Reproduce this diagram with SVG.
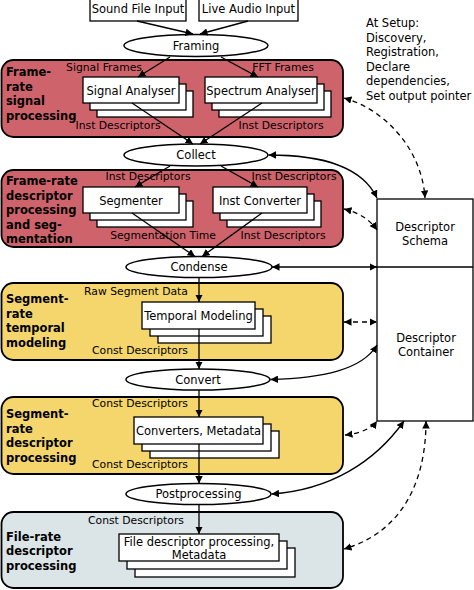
<svg xmlns="http://www.w3.org/2000/svg" width="474" height="590" viewBox="0 0 474 590">
<defs>
<marker id="ah" viewBox="0 0 10 10" refX="10" refY="5" markerWidth="7.5" markerHeight="7.5" markerUnits="userSpaceOnUse" orient="auto-start-reverse">
<path d="M0,0 L10,5 L0,10 z" fill="#000"/>
</marker>
<style>
text{font-family:"DejaVu Sans","Liberation Sans",sans-serif;fill:#000}
.grp{stroke:#000;stroke-width:1.8}
.red{fill:#cf636b}
.yel{fill:#f4d66c}
.gry{fill:#dbe4e6}
.gl{font-weight:bold;font-size:11.5px}
.el{font-size:10.8px;text-anchor:middle}
.bt{font-size:11.5px;text-anchor:middle}
.box{fill:#fff;stroke:#000;stroke-width:1.3}
.ell{fill:#fff;stroke:#000;stroke-width:1.5}
.c{fill:none;stroke:#000;stroke-width:1.3}
.d{stroke-dasharray:5,4}
.a{marker-end:url(#ah)}
.b{marker-start:url(#ah);marker-end:url(#ah)}
</style>
</defs>

<g id="inputs">
<g id="sound-file-input"><rect class="box" x="90" y="-3" width="96" height="24"/><text class="bt" x="138" y="13">Sound File Input</text></g>
<g id="live-audio-input"><rect class="box" x="199" y="-3" width="99" height="24"/><text class="bt" x="248.5" y="13">Live Audio Input</text></g>
</g>

<g id="group-frame-signal">
<rect class="grp red" x="1.5" y="60" width="341.5" height="77" rx="12"/>
<text class="gl" x="6"><tspan x="6" y="76">Frame-</tspan><tspan x="6" y="90.5">rate</tspan><tspan x="6" y="105">signal</tspan><tspan x="6" y="119.5">processing</tspan></text>
<text class="el" x="104" y="71">Signal Frames</text>
<text class="el" x="283" y="71">FFT Frames</text>
<text class="el" x="118" y="129">Inst Descriptors</text>
<text class="el" x="281" y="129">Inst Descriptors</text>
</g>
<g id="signal-analyser">
<rect class="box" x="97" y="91" width="96" height="26"/>
<rect class="box" x="90" y="84" width="96" height="26"/>
<rect class="box" x="83" y="77" width="96" height="26"/>
<text class="bt" x="131" y="94.5">Signal Analyser</text>
</g>
<g id="spectrum-analyser">
<rect class="box" x="219" y="91" width="112" height="26"/>
<rect class="box" x="212" y="84" width="112" height="26"/>
<rect class="box" x="205" y="77" width="112" height="26"/>
<text class="bt" x="261" y="94.5">Spectrum Analyser</text>
</g>

<g id="group-frame-descriptor">
<rect class="grp red" x="1.5" y="170" width="341.5" height="77" rx="12"/>
<text class="gl" x="6"><tspan x="6" y="185">Frame-rate</tspan><tspan x="6" y="199.5">descriptor</tspan><tspan x="6" y="214">processing</tspan><tspan x="6" y="228.5">and seg-</tspan><tspan x="6" y="243">mentation</tspan></text>
<text class="el" x="148" y="180">Inst Descriptors</text>
<text class="el" x="294" y="180">Inst Descriptors</text>
<text class="el" x="163" y="239">Segmentation Time</text>
<text class="el" x="283" y="239">Inst Descriptors</text>
</g>
<g id="segmenter">
<rect class="box" x="97" y="201" width="96" height="26"/>
<rect class="box" x="90" y="194" width="96" height="26"/>
<rect class="box" x="83" y="187" width="96" height="26"/>
<text class="bt" x="131" y="204.5">Segmenter</text>
</g>
<g id="inst-converter">
<rect class="box" x="227" y="201" width="94" height="26"/>
<rect class="box" x="220" y="194" width="94" height="26"/>
<rect class="box" x="213" y="187" width="94" height="26"/>
<text class="bt" x="260" y="204.5">Inst Converter</text>
</g>

<g id="group-segment-temporal">
<rect class="grp yel" x="1.5" y="283" width="341.5" height="77" rx="12"/>
<text class="gl" x="6"><tspan x="6" y="303">Segment-</tspan><tspan x="6" y="317.5">rate</tspan><tspan x="6" y="332">temporal</tspan><tspan x="6" y="346.5">modeling</tspan></text>
<text class="el" x="136" y="295">Raw Segment Data</text>
<text class="el" x="140" y="354">Const Descriptors</text>
</g>
<g id="temporal-modeling">
<rect class="box" x="158" y="316" width="113" height="27"/>
<rect class="box" x="150" y="309" width="113" height="27"/>
<rect class="box" x="142" y="302" width="113" height="27"/>
<text class="bt" x="198.5" y="320">Temporal Modeling</text>
</g>

<g id="group-segment-descriptor">
<rect class="grp yel" x="1.5" y="397" width="341.5" height="77" rx="12"/>
<text class="gl" x="6"><tspan x="6" y="418">Segment-</tspan><tspan x="6" y="432.5">rate</tspan><tspan x="6" y="447">descriptor</tspan><tspan x="6" y="461.5">processing</tspan></text>
<text class="el" x="140" y="407">Const Descriptors</text>
<text class="el" x="140" y="468">Const Descriptors</text>
</g>
<g id="converters-metadata">
<rect class="box" x="150" y="431" width="129" height="27"/>
<rect class="box" x="142" y="424" width="129" height="27"/>
<rect class="box" x="134" y="417" width="129" height="27"/>
<text class="bt" x="198.5" y="435">Converters, Metadata</text>
</g>

<g id="group-file-rate">
<rect class="grp gry" x="1.5" y="512" width="341.5" height="76" rx="12"/>
<text class="gl" x="6"><tspan x="6" y="540.5">File-rate</tspan><tspan x="6" y="555">descriptor</tspan><tspan x="6" y="569.5">processing</tspan></text>
<text class="el" x="136" y="524">Const Descriptors</text>
</g>
<g id="file-descriptor-processing">
<rect class="box" x="135" y="548" width="160" height="29"/>
<rect class="box" x="127" y="541" width="160" height="28"/>
<rect class="box" x="119" y="534" width="160" height="27"/>
<text class="bt" x="199" y="546">File descriptor processing,</text>
<text class="bt" x="199" y="559">Metadata</text>
</g>

<g id="framing"><ellipse class="ell" cx="196" cy="45.5" rx="72" ry="11"/><text class="bt" x="196" y="49.5">Framing</text></g>
<g id="collect"><ellipse class="ell" cx="196" cy="155" rx="72" ry="11"/><text class="bt" x="196" y="159">Collect</text></g>
<g id="condense"><ellipse class="ell" cx="199" cy="267" rx="73" ry="10.5"/><text class="bt" x="199" y="271">Condense</text></g>
<g id="convert"><ellipse class="ell" cx="198" cy="379.5" rx="72" ry="10.5"/><text class="bt" x="198" y="383.5">Convert</text></g>
<g id="postprocessing"><ellipse class="ell" cx="198.5" cy="494" rx="72.5" ry="10.5"/><text class="bt" x="198.5" y="498">Postprocessing</text></g>

<g id="descriptor-store">
<rect class="box" x="377" y="199" width="96" height="222"/>
<line x1="377" y1="267" x2="473" y2="267" stroke="#000" stroke-width="1.3"/>
<text class="bt" x="425"><tspan x="425" y="231">Descriptor</tspan><tspan x="425" y="245">Schema</tspan></text>
<text class="bt" x="426"><tspan x="426" y="342">Descriptor</tspan><tspan x="426" y="356">Container</tspan></text>
</g>

<g id="setup-note">
<text style="font-size:11.5px"><tspan x="366" y="27">At Setup:</tspan><tspan x="366" y="41.5">Discovery,</tspan><tspan x="366" y="56">Registration,</tspan><tspan x="366" y="70.5">Declare</tspan><tspan x="366" y="85">dependencies,</tspan><tspan x="366" y="99.5">Set output pointer</tspan></text>
</g>

<g id="connectors">
<path class="c a" d="M137,21 L193,34"/>
<path class="c a" d="M248,21 L200,34"/>
<path class="c a" d="M170,57 L138,77"/>
<path class="c a" d="M221,57 L258,77"/>
<path class="c a" d="M132,103 L193,144"/>
<path class="c a" d="M262,103 L200,144"/>
<path class="c a" d="M170,166 L135,187"/>
<path class="c a" d="M221,166 L258,187"/>
<path class="c a" d="M132,213 L195,256.5"/>
<path class="c a" d="M262,213 L202,256.5"/>
<path class="c a" d="M199,277.5 L199,302"/>
<path class="c a" d="M199,329 L199,369"/>
<path class="c a" d="M199,390 L199,417"/>
<path class="c a" d="M199,444 L199,483.5"/>
<path class="c a" d="M199,504.5 L199,534"/>
<path class="c d b" d="M344,98 C386,110 422,150 425,198"/>
<path class="c b" d="M268.5,155 C322,155 362,166 377,198"/>
<path class="c d b" d="M344,209 C360,213 370,220 377,230"/>
<path class="c b" d="M272,267 L377,267"/>
<path class="c d b" d="M344,322 L377,322"/>
<path class="c b" d="M270.5,379.5 C322,378 362,370 377,345"/>
<path class="c d b" d="M345,435 C362,433 372,428 377,421"/>
<path class="c b" d="M271.5,494 C330,490 375,462 404,421"/>
<path class="c d b" d="M426,421 C426,482 402,532 344,549"/>
</g>
</svg>
